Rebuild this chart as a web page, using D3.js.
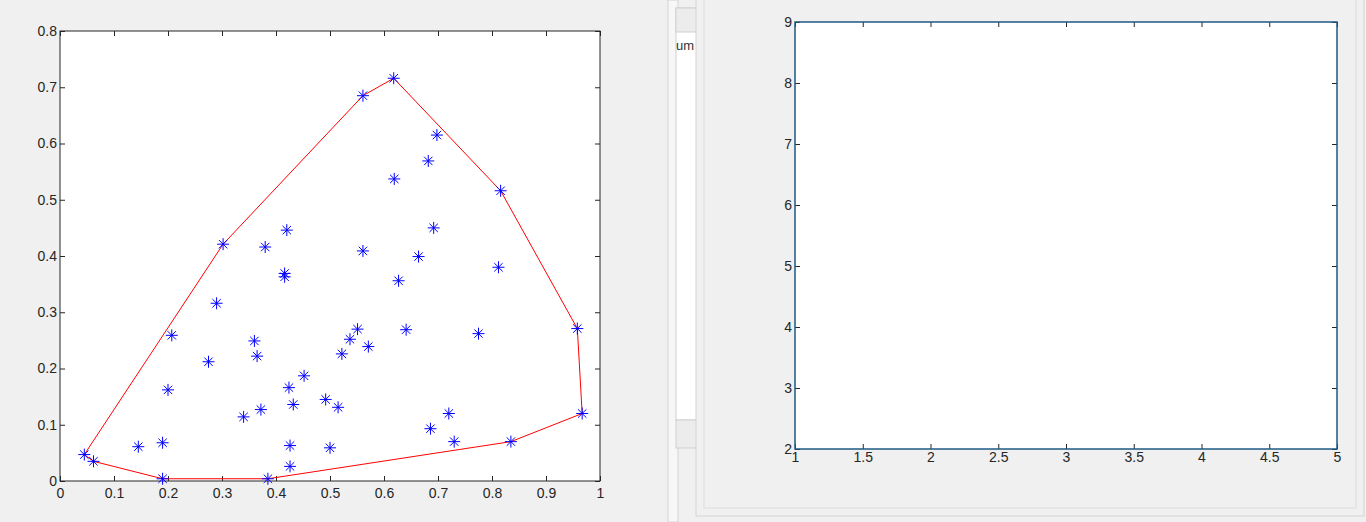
<!DOCTYPE html><html><head><meta charset="utf-8"><script src="https://cdn.jsdelivr.net/npm/d3@7"></script>
<style>body{margin:0;background:#f0f0f0;font-family:Arial,"Liberation Sans",sans-serif}</style></head><body><svg id="s" width="1366" height="522"></svg>
<script>
const pointsX=[0.045,0.062,0.19,0.385,0.835,0.967,0.958,0.816,0.618,0.561,0.302,0.145,0.19,0.2,0.207,0.29,0.275,0.34,0.36,0.365,0.372,0.38,0.42,0.416,0.416,0.424,0.426,0.426,0.432,0.452,0.492,0.5,0.515,0.522,0.537,0.551,0.561,0.571,0.619,0.627,0.641,0.664,0.682,0.686,0.692,0.698,0.72,0.73,0.775,0.812];
const pointsY=[0.047,0.035,0.004,0.004,0.07,0.12,0.271,0.516,0.716,0.685,0.421,0.061,0.068,0.162,0.259,0.316,0.212,0.114,0.249,0.222,0.127,0.416,0.446,0.369,0.363,0.166,0.063,0.026,0.136,0.187,0.145,0.059,0.131,0.226,0.252,0.27,0.409,0.239,0.537,0.356,0.269,0.399,0.569,0.093,0.45,0.615,0.12,0.07,0.262,0.38];
const hullIdx=[0,1,2,3,4,5,6,7,8,9,10,0];
const xTicksL=[0,0.1,0.2,0.3,0.4,0.5,0.6,0.7,0.8,0.9,1];
const yTicksL=[0,0.1,0.2,0.3,0.4,0.5,0.6,0.7,0.8];
const xTicksR=[1,1.5,2,2.5,3,3.5,4,4.5,5];
const yTicksR=[2,3,4,5,6,7,8,9];
const svg=d3.select("#s");
// background window pieces
svg.append("rect").attr("x",668).attr("y",0).attr("width",10).attr("height",522).attr("fill","#f7f7f7").attr("stroke","#d4d4d4");
svg.append("rect").attr("x",676).attr("y",8).attr("width",30).attr("height",412).attr("fill","#fff").attr("stroke","#d0d0d0");
svg.append("rect").attr("x",676).attr("y",8).attr("width",30).attr("height",24).attr("fill","#ececec").attr("stroke","#d0d0d0");
svg.append("rect").attr("x",676).attr("y",420).attr("width",30).attr("height",28).attr("fill","#ececec").attr("stroke","#d0d0d0");
svg.append("text").attr("x",676).attr("y",50).attr("font-size",13).attr("fill","#333").text("um");
svg.append("rect").attr("x",696).attr("y",-2).attr("width",668).attr("height",518).attr("fill","#f0f0f0").attr("stroke","#d4d4d4");
svg.append("rect").attr("x",704).attr("y",-2).attr("width",652).attr("height",510).attr("fill","#f0f0f0").attr("stroke","#dcdcdc");
function axes(x0,x1,y0,y1,xd,yd,xt,yt,edge){
  const x=d3.scaleLinear().domain(xd).range([x0,x1]);
  const y=d3.scaleLinear().domain(yd).range([y1,y0]);
  svg.append("rect").attr("x",x0).attr("y",y0).attr("width",x1-x0).attr("height",y1-y0).attr("fill","#fff");
  const g=svg.append("g");
  const fmt=d=>String(d);
  const ax=[[d3.axisBottom(x).tickValues(xt).tickSize(-5).tickFormat(fmt),`translate(0,${y1})`],
            [d3.axisTop(x).tickValues(xt).tickSize(-5).tickFormat(""),`translate(0,${y0})`],
            [d3.axisLeft(y).tickValues(yt).tickSize(-5).tickFormat(fmt),`translate(${x0},0)`],
            [d3.axisRight(y).tickValues(yt).tickSize(-5).tickFormat(""),`translate(${x1},0)`]];
  ax.forEach(([a,t])=>{const s=g.append("g").attr("transform",t).call(a);
    s.select(".domain").remove();
    s.selectAll("line").attr("stroke","#262626");
    s.selectAll("text").attr("font-size",14).attr("fill","#262626").attr("font-family","Arial,'Liberation Sans',sans-serif");});
  g.selectAll("text").each(function(){});
  return {x,y,g};
}
const L=axes(60,600,31,481,[0,1],[0,0.8],xTicksL,yTicksL);
L.g.selectAll("g").filter((d,i)=>i===0).selectAll("text").attr("dy","1.0em");
svg.append("rect").attr("x",60).attr("y",31).attr("width",540).attr("height",450).attr("fill","none").attr("stroke","#262626");
const line=d3.line().x(i=>L.x(pointsX[i])).y(i=>L.y(pointsY[i]));
svg.append("path").attr("d",line(hullIdx)).attr("fill","none").attr("stroke","#ff0000").attr("stroke-width",1);
const pg=svg.append("g").attr("stroke","#0000ff").attr("stroke-width",1);
pointsX.forEach((v,i)=>{const cx=L.x(v),cy=L.y(pointsY[i]),r=6,d=4.2;
  pg.append("path").attr("d",`M${cx-r},${cy}H${cx+r}M${cx},${cy-r}V${cy+r}M${cx-d},${cy-d}L${cx+d},${cy+d}M${cx-d},${cy+d}L${cx+d},${cy-d}`);});
const R=axes(795,1337,22,449,[1,5],[2,9],xTicksR,yTicksR);
svg.append("rect").attr("x",795).attr("y",22).attr("width",542).attr("height",427).attr("fill","none").attr("stroke","#1f5a84").attr("stroke-width",1.5);
</script></body></html>
